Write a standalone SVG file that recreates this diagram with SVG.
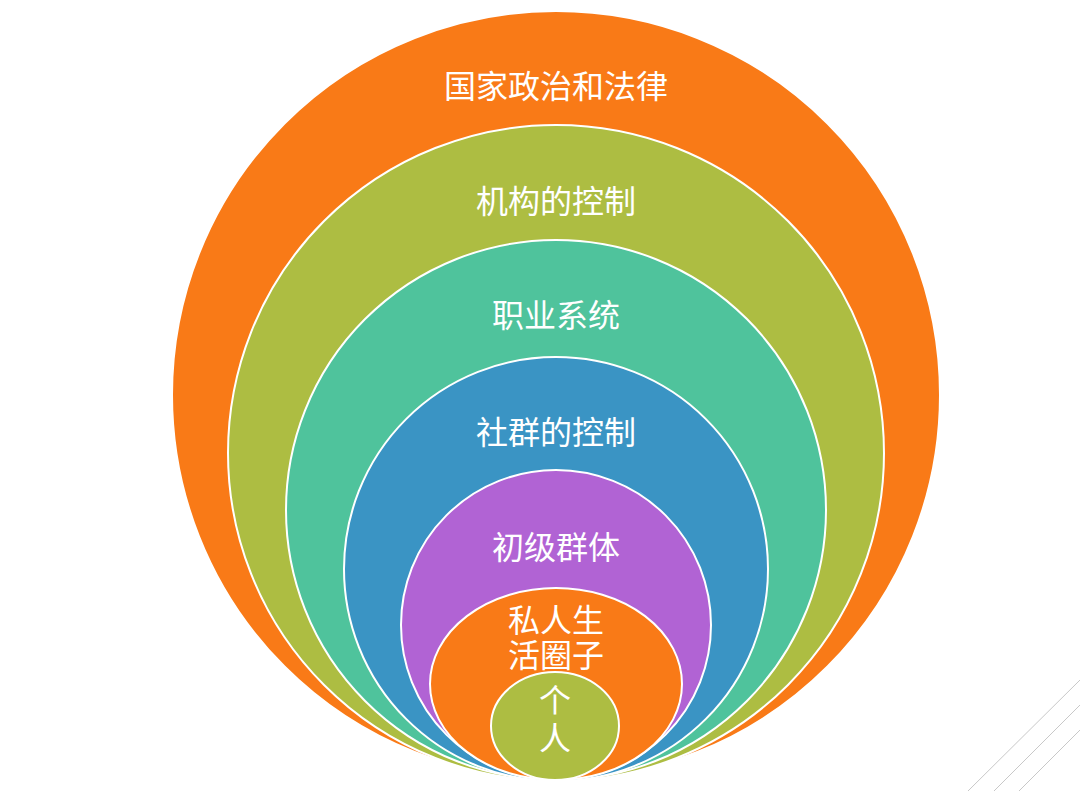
<svg xmlns="http://www.w3.org/2000/svg" width="1080" height="791" viewBox="0 0 1080 791">
<style>
.c{stroke:#fff;stroke-width:2}
.t{fill:#fff;font-family:"Noto Sans CJK SC","Noto Sans",sans-serif;font-size:32px;text-anchor:middle}
.d{stroke:#c8c8c8;stroke-width:1;fill:none}
</style>
<rect width="1080" height="791" fill="#fff"/>
<g id="n1"><circle class="c" cx="556" cy="395" r="384" fill="#f97a17"/><text class="t" x="556" y="98">国家政治和法律</text></g>
<g id="n2"><circle class="c" cx="556" cy="453" r="328" fill="#adbd42"/><text class="t" x="556" y="213">机构的控制</text></g>
<g id="n3"><circle class="c" cx="556" cy="510" r="270" fill="#4fc39c"/><text class="t" x="556" y="327">职业系统</text></g>
<g id="n4"><circle class="c" cx="556" cy="569" r="212" fill="#3a94c4"/><text class="t" x="556" y="444">社群的控制</text></g>
<g id="n5"><circle class="c" cx="556" cy="625" r="155" fill="#b163d4"/><text class="t" x="556" y="559">初级群体</text></g>
<g id="n6"><ellipse class="c" cx="556" cy="684" rx="126" ry="96" fill="#f97a17"/><text class="t" x="556" y="632">私人生</text><text class="t" x="556" y="667">活圈子</text></g>
<g id="n7"><ellipse class="c" cx="555" cy="726" rx="64" ry="54" fill="#adbd42"/><text class="t" x="555" y="712">个</text><text class="t" x="555" y="750">人</text></g>
<g id="connectors"></g>
<g id="deco"><line class="d" x1="1080" y1="680" x2="968" y2="791"/><line class="d" x1="1080" y1="705" x2="994" y2="791"/><line class="d" x1="1080" y1="730" x2="1019" y2="791"/></g>
</svg>
